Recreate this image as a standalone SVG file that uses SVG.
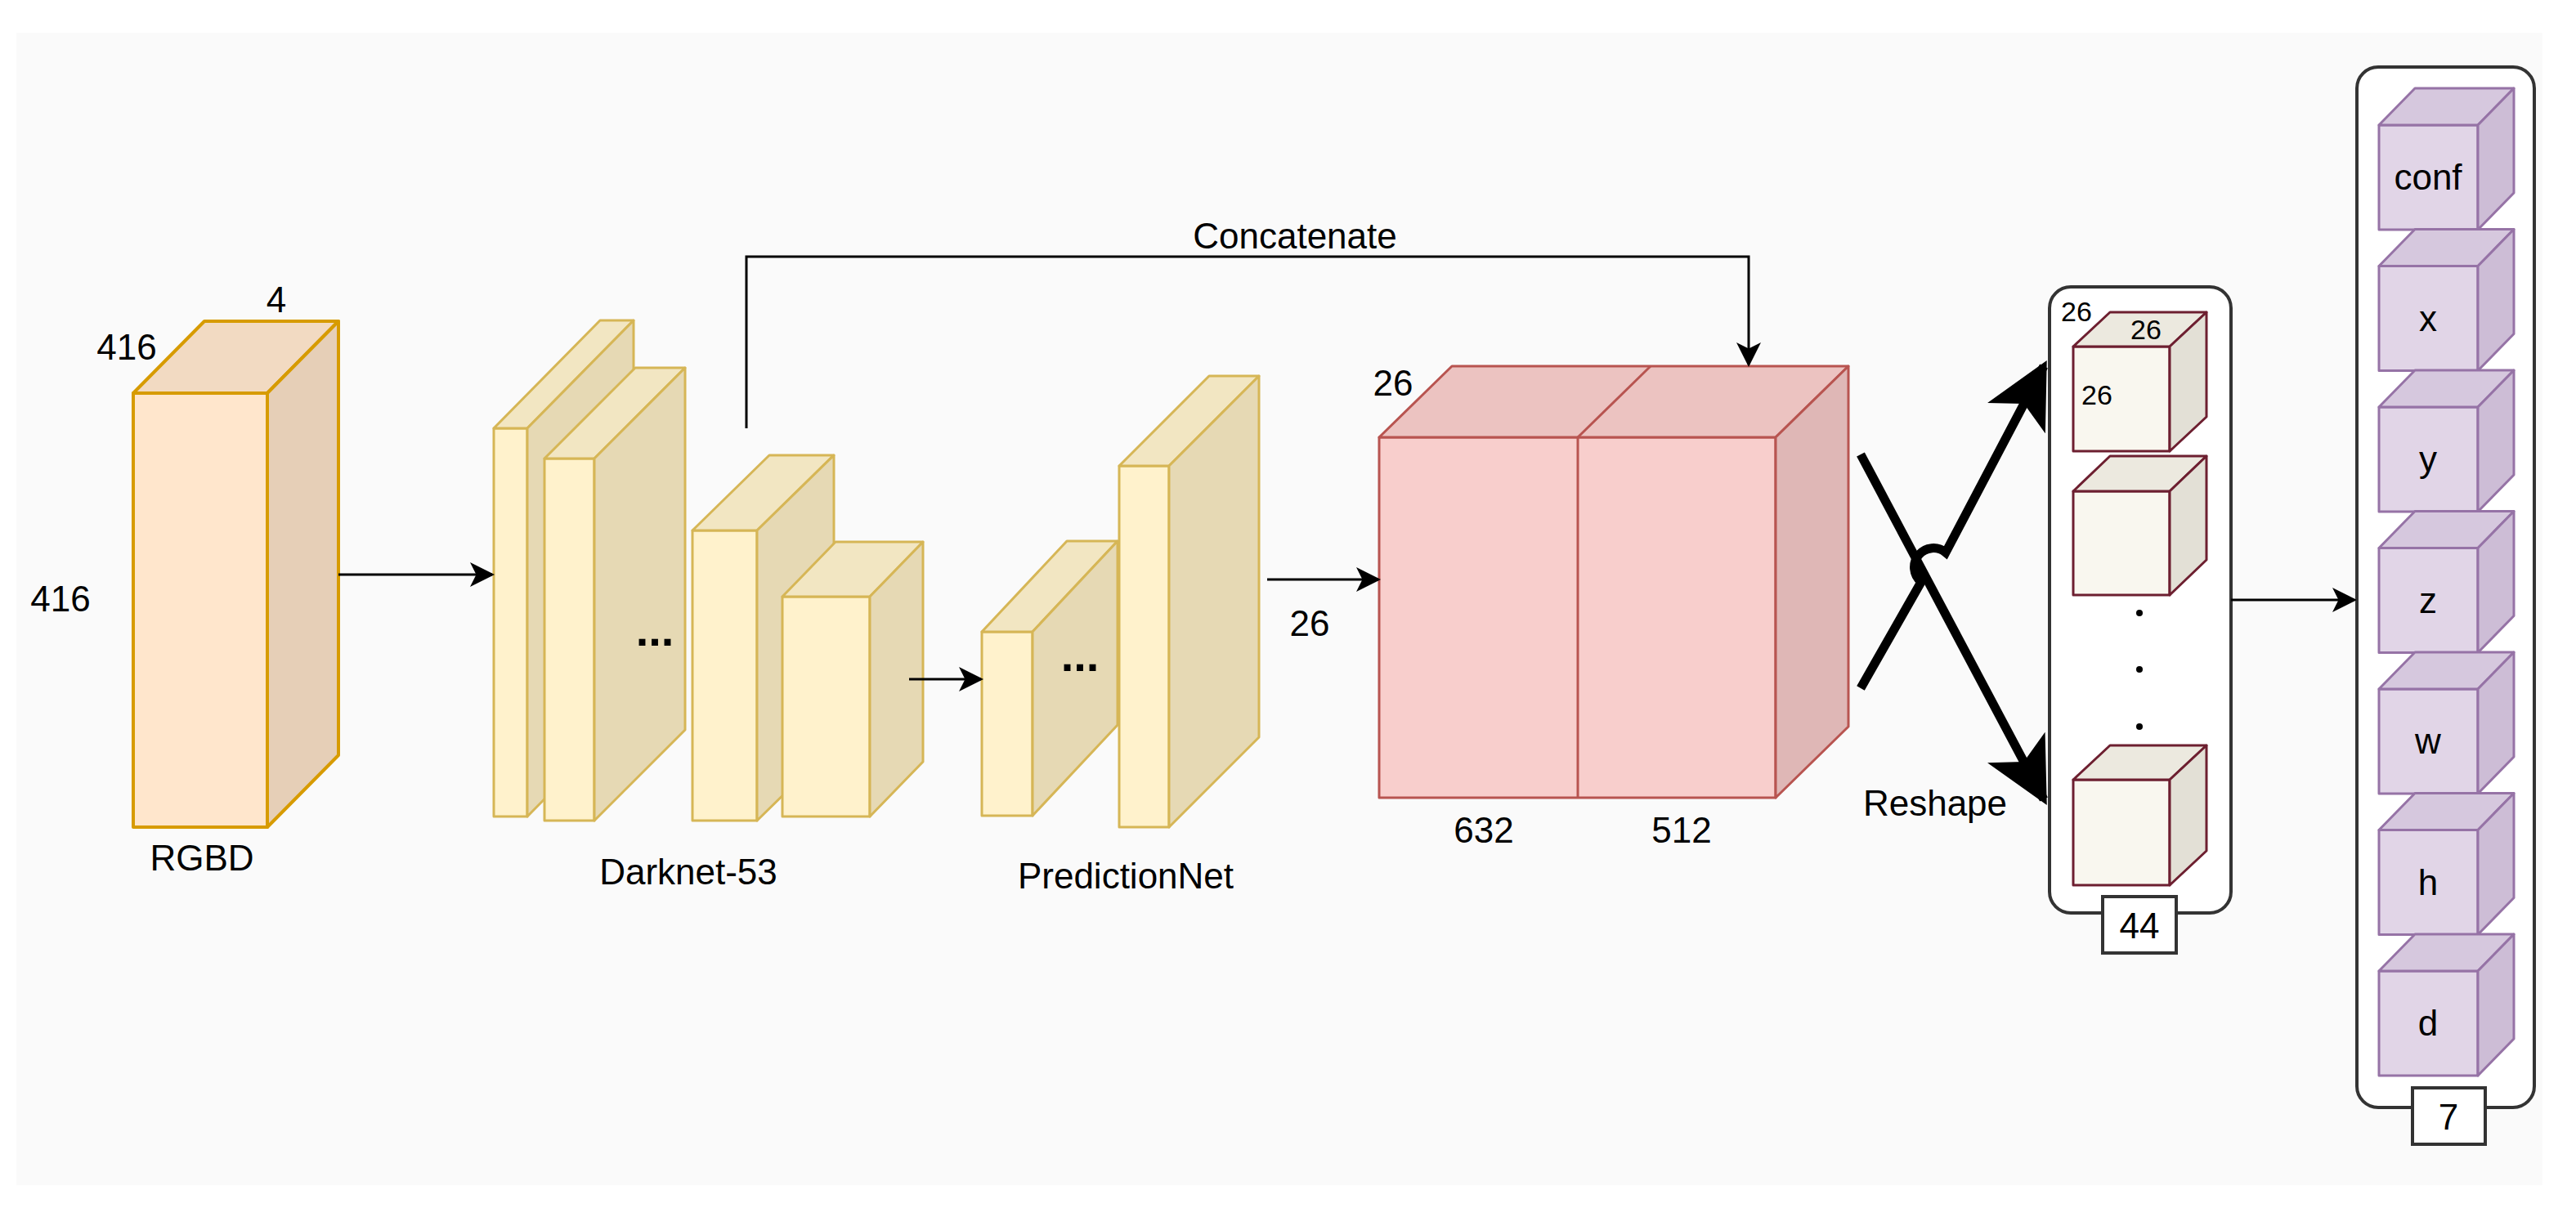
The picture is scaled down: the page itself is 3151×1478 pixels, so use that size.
<svg xmlns="http://www.w3.org/2000/svg" width="3151" height="1478" viewBox="0 0 3151 1478">
<defs>
<marker id="ah" viewBox="0 0 20 20" refX="18" refY="10" markerWidth="30" markerHeight="30" markerUnits="userSpaceOnUse" orient="auto"><path d="M0,0 L20,10 L0,20 L5,10 Z" fill="#000"/></marker>
<marker id="ahb" viewBox="0 0 20 20" refX="18" refY="10" markerWidth="80" markerHeight="80" markerUnits="userSpaceOnUse" orient="auto"><path d="M0,0 L20,10 L0,20 L5,10 Z" fill="#000"/></marker>
</defs>
<style>
text{font-family:"Liberation Sans",Arial,sans-serif;font-size:44px;fill:#000;text-anchor:middle}
.or{stroke:#d79b00;stroke-width:4;stroke-linejoin:round}
.ye{stroke:#d6b656;stroke-width:3;stroke-linejoin:round}
.re{stroke:#b85450;stroke-width:3;stroke-linejoin:round}
.br{stroke:#6d1f30;stroke-width:3;stroke-linejoin:round}
.pu{stroke:#9673a6;stroke-width:3;stroke-linejoin:round}
.yf{fill:#fff2cc}.yt{fill:#f2e6c2}.ys{fill:#e6d9b4}
.bf{fill:#f9f7ef}.bt{fill:#ece9df}.bs{fill:#e3e0d6}
.pf{fill:#e1d5e7}.pt{fill:#d6c8de}.ps{fill:#cdbdd6}
.cn{fill:none;stroke:#000;stroke-width:3}
.box{fill:#fff;stroke:#333;stroke-width:4}
</style>
<rect x="20" y="40" width="3090" height="1410" fill="#fafafa"/>
<g id="rgbd">
<rect x="163" y="481" width="164" height="531" fill="#ffe6cc" class="or"/>
<polygon points="163,481 250,393 414,393 327,481" fill="#f2dac2" class="or"/>
<polygon points="327,481 414,393 414,924 327,1012" fill="#e6cfb7" class="or"/>
<text x="338" y="382">4</text><text x="155" y="440">416</text><text x="74" y="748">416</text><text x="247" y="1065">RGBD</text>
</g>
<g id="darknet">
<rect x="604" y="524" width="41" height="475" class="ye yf"/>
<polygon points="604,524 734,392 775,392 645,524" class="ye yt"/>
<polygon points="645,524 775,392 775,867 645,999" class="ye ys"/>
<rect x="666" y="561" width="61" height="443" class="ye yf"/>
<polygon points="666,561 777,450 838,450 727,561" class="ye yt"/>
<polygon points="727,561 838,450 838,893 727,1004" class="ye ys"/>
<rect x="847" y="649" width="79" height="355" class="ye yf"/>
<polygon points="847,649 941,557 1020,557 926,649" class="ye yt"/>
<polygon points="926,649 1020,557 1020,912 926,1004" class="ye ys"/>
<rect x="957" y="730" width="107" height="269" class="ye yf"/>
<polygon points="957,730 1022,663 1129,663 1064,730" class="ye yt"/>
<polygon points="1064,730 1129,663 1129,932 1064,999" class="ye ys"/>
<text x="801" y="790" style="font-weight:bold;font-size:56px">...</text>
<text x="842" y="1082">Darknet-53</text>
</g>
<g id="prediction">
<rect x="1201" y="773" width="62" height="225" class="ye yf"/>
<polygon points="1201,773 1305,662 1367,662 1263,773" class="ye yt"/>
<polygon points="1263,773 1367,662 1367,887 1263,998" class="ye ys"/>
<rect x="1369" y="570" width="61" height="442" class="ye yf"/>
<polygon points="1369,570 1479,460 1540,460 1430,570" class="ye yt"/>
<polygon points="1430,570 1540,460 1540,902 1430,1012" class="ye ys"/>
<text x="1321" y="821" style="font-weight:bold;font-size:56px">...</text>
<text x="1377" y="1087">PredictionNet</text>
</g>
<g id="concat">
<rect x="1687" y="535" width="485" height="441" fill="#f8cecc" class="re"/>
<polygon points="1687,535 1776,448 2261,448 2172,535" fill="#ecc3c1" class="re"/>
<polygon points="2172,535 2261,448 2261,889 2172,976" fill="#dfb7b6" class="re"/>
<path d="M1930,535 V976 M1930,535 L2019,448" class="re" fill="none"/>
<text x="1704" y="484">26</text><text x="1815" y="1031">632</text><text x="2057" y="1031">512</text>
</g>
<g id="grid">
<rect x="2507" y="351" width="222" height="766" rx="26" fill="#fff" stroke="#333" stroke-width="4"/>
<rect x="2536" y="424" width="118" height="128" class="br bf"/>
<polygon points="2536,424 2581,382 2699,382 2654,424" class="br bt"/>
<polygon points="2654,424 2699,382 2699,510 2654,552" class="br bs"/>
<rect x="2536" y="601" width="118" height="127" class="br bf"/>
<polygon points="2536,601 2581,558 2699,558 2654,601" class="br bt"/>
<polygon points="2654,601 2699,558 2699,685 2654,728" class="br bs"/>
<rect x="2536" y="954" width="118" height="129" class="br bf"/>
<polygon points="2536,954 2581,912 2699,912 2654,954" class="br bt"/>
<polygon points="2654,954 2699,912 2699,1041 2654,1083" class="br bs"/>
<circle cx="2617" cy="750" r="4"/><circle cx="2617" cy="819" r="4"/><circle cx="2617" cy="889" r="4"/>
<text x="2540" y="393" style="font-size:34px">26</text><text x="2625" y="415" style="font-size:34px">26</text><text x="2565" y="495" style="font-size:34px">26</text>
<rect x="2572" y="1097" width="90" height="69" class="box"/><text x="2617" y="1148">44</text>
</g>
<g id="output">
<rect x="2883" y="82" width="217" height="1273" rx="26" fill="#fff" stroke="#333" stroke-width="4"/>
<g id="c0"><rect x="2910" y="153" width="121" height="128" class="pu pf"/><polygon points="2910,153 2954,108 3075,108 3031,153" class="pu pt"/><polygon points="3031,153 3075,108 3075,236 3031,281" class="pu ps"/><text x="2970" y="232">conf</text></g>
<g id="c1" transform="translate(0,172.5)"><rect x="2910" y="153" width="121" height="128" class="pu pf"/><polygon points="2910,153 2954,108 3075,108 3031,153" class="pu pt"/><polygon points="3031,153 3075,108 3075,236 3031,281" class="pu ps"/><text x="2970" y="232">x</text></g>
<g id="c2" transform="translate(0,345)"><rect x="2910" y="153" width="121" height="128" class="pu pf"/><polygon points="2910,153 2954,108 3075,108 3031,153" class="pu pt"/><polygon points="3031,153 3075,108 3075,236 3031,281" class="pu ps"/><text x="2970" y="232">y</text></g>
<g id="c3" transform="translate(0,517.5)"><rect x="2910" y="153" width="121" height="128" class="pu pf"/><polygon points="2910,153 2954,108 3075,108 3031,153" class="pu pt"/><polygon points="3031,153 3075,108 3075,236 3031,281" class="pu ps"/><text x="2970" y="232">z</text></g>
<g id="c4" transform="translate(0,690)"><rect x="2910" y="153" width="121" height="128" class="pu pf"/><polygon points="2910,153 2954,108 3075,108 3031,153" class="pu pt"/><polygon points="3031,153 3075,108 3075,236 3031,281" class="pu ps"/><text x="2970" y="232">w</text></g>
<g id="c5" transform="translate(0,862.5)"><rect x="2910" y="153" width="121" height="128" class="pu pf"/><polygon points="2910,153 2954,108 3075,108 3031,153" class="pu pt"/><polygon points="3031,153 3075,108 3075,236 3031,281" class="pu ps"/><text x="2970" y="232">h</text></g>
<g id="c6" transform="translate(0,1035)"><rect x="2910" y="153" width="121" height="128" class="pu pf"/><polygon points="2910,153 2954,108 3075,108 3031,153" class="pu pt"/><polygon points="3031,153 3075,108 3075,236 3031,281" class="pu ps"/><text x="2970" y="232">d</text></g>
<rect x="2951" y="1331" width="89" height="69" class="box"/><text x="2995" y="1382">7</text>
</g>
<g id="connectors">
<path d="M414,703 H602" class="cn" marker-end="url(#ah)"/>
<path d="M1112,831 H1200" class="cn" marker-end="url(#ah)"/>
<path d="M1550,709 H1686" class="cn" marker-end="url(#ah)"/>
<text x="1602" y="778">26</text>
<path d="M913,524 V314 H2139 V446" class="cn" marker-end="url(#ah)"/>
<text x="1584" y="304">Concatenate</text>
<path d="M2276,556 L2500,978" fill="none" stroke="#000" stroke-width="11" marker-end="url(#ahb)"/>
<path d="M2276,842 L2350,712 A22,22 0 0 1 2380,676 L2500,448" fill="none" stroke="#000" stroke-width="11" marker-end="url(#ahb)"/>
<text x="2367" y="998">Reshape</text>
<path d="M2729,734 H2880" class="cn" marker-end="url(#ah)"/>
</g>
</svg>
